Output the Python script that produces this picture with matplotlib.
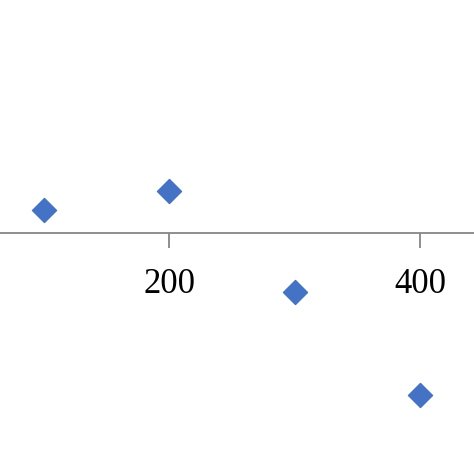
import matplotlib.pyplot as plt

# data
x_vals = [100, 200, 300, 400]
y_vals = [0.46, 0.84, -1.18, -3.24]
x_ticks = [200, 400]

fig = plt.figure(figsize=(4.74, 4.74), dpi=100)
ax = fig.add_axes([0, 0, 1, 1])
ax.scatter(x_vals, y_vals, marker='D', s=150, color='#4472C4', zorder=3)

ax.set_xlim(65.3, 443)
ax.set_ylim(-4.82, 4.66)
for s in ['top', 'right', 'left']:
    ax.spines[s].set_visible(False)
ax.spines['bottom'].set_position(('data', 0))
ax.spines['bottom'].set_color('#868686')
ax.spines['bottom'].set_linewidth(1.3)
ax.set_yticks([])
ax.set_xticks(x_ticks)
ax.set_xticklabels([str(t) for t in x_ticks], family='Liberation Serif', fontsize=25)
ax.tick_params(axis='x', direction='out', length=11, width=1.3, color='#868686', pad=14)

fig.savefig('out.png')
